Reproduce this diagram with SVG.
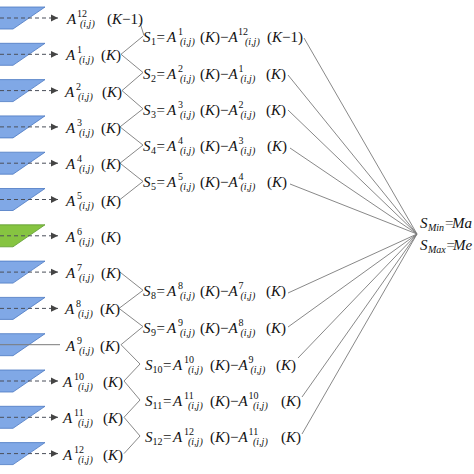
<svg xmlns="http://www.w3.org/2000/svg" xmlns:xlink="http://www.w3.org/1999/xlink" width="474" height="474" viewBox="0 0 474 474" font-family="Liberation Serif, serif" font-size="15">
<style>
text{fill:#111}
.i{font-style:italic}
.s{font-size:10px}
.b{fill:#80a8e6;stroke:#4b79c2;stroke-width:0.8}
.g{fill:#86c441;stroke:#5c9a2c;stroke-width:0.8}
.d{stroke:#4a4f5a;stroke-width:1;stroke-dasharray:4 3;fill:none}
.c{stroke:#7a7a7a;stroke-width:0.9;fill:none}
</style>
<defs>
<polygon id="pg" points="-10,-11 45,-11 13,11 -10,11"/>
<marker id="ah" markerWidth="8" markerHeight="8" refX="7" refY="4" orient="auto" markerUnits="userSpaceOnUse"><path d="M0,0.6 L7,4 L0,7.4 z" fill="#444"/></marker>
</defs>
<g id="sources">
<g id="src0"><use xlink:href="#pg" class="b" transform="translate(0,18)"/><line class="d" x1="0" y1="18" x2="58" y2="18" marker-end="url(#ah)"/></g>
<g id="src1"><use xlink:href="#pg" class="b" transform="translate(0,54.3)"/><line class="d" x1="0" y1="54.3" x2="58" y2="54.3" marker-end="url(#ah)"/></g>
<g id="src2"><use xlink:href="#pg" class="b" transform="translate(0,90.6)"/><line class="d" x1="0" y1="90.6" x2="58" y2="90.6" marker-end="url(#ah)"/></g>
<g id="src3"><use xlink:href="#pg" class="b" transform="translate(0,126.9)"/><line class="d" x1="0" y1="126.9" x2="58" y2="126.9" marker-end="url(#ah)"/></g>
<g id="src4"><use xlink:href="#pg" class="b" transform="translate(0,163.2)"/><line class="d" x1="0" y1="163.2" x2="58" y2="163.2" marker-end="url(#ah)"/></g>
<g id="src5"><use xlink:href="#pg" class="b" transform="translate(0,199.5)"/><line class="d" x1="0" y1="199.5" x2="58" y2="199.5" marker-end="url(#ah)"/></g>
<g id="src6"><use xlink:href="#pg" class="g" transform="translate(0,235.8)"/><line class="d" x1="0" y1="235.8" x2="58" y2="235.8" marker-end="url(#ah)"/></g>
<g id="src7"><use xlink:href="#pg" class="b" transform="translate(0,272.1)"/><line class="d" x1="0" y1="272.1" x2="58" y2="272.1" marker-end="url(#ah)"/></g>
<g id="src8"><use xlink:href="#pg" class="b" transform="translate(0,308.4)"/><line class="d" x1="0" y1="308.4" x2="58" y2="308.4" marker-end="url(#ah)"/></g>
<g id="src9"><use xlink:href="#pg" class="b" transform="translate(0,344.7)"/><line x1="0" y1="344.7" x2="60" y2="344.7" stroke="#7a7a7a" stroke-width="1"/></g>
<g id="src10"><use xlink:href="#pg" class="b" transform="translate(0,381)"/><line class="d" x1="0" y1="381" x2="58" y2="381" marker-end="url(#ah)"/></g>
<g id="src11"><use xlink:href="#pg" class="b" transform="translate(0,417.3)"/><line class="d" x1="0" y1="417.3" x2="58" y2="417.3" marker-end="url(#ah)"/></g>
<g id="src12"><use xlink:href="#pg" class="b" transform="translate(0,453.6)"/><line class="d" x1="0" y1="453.6" x2="58" y2="453.6" marker-end="url(#ah)"/></g>
</g>
<g id="connectors">
<path class="c" d="M140,23 L144,35.5"/>
<path class="c" d="M143,36.2 L121,54.3 L143,72.5 L122,90.6 L143,108.8 L120,126.9 L143,145.1 L120,163.2 L143,181.4 L120,199.5"/>
<path class="c" d="M120,272.1 L143,290.3 L119,308.4 L143,326.6 L121,344.7 L140,364 L124,381 L140,400 L124,417.3 L140,436 L124,453.6"/>
<path class="c" d="M304,38 L417,234 M288,75 L417,234 M288,110 L417,234 M290,148 L417,234 M290,184 L417,234 M288,293 L417,234 M288,327 L417,234 M298,358 L417,234 M302,397 L417,234 M302,434 L417,234"/>
</g>
<g id="a12prev"><text y="24"><tspan class="i" x="67">A</tspan><tspan class="s" x="77" y="17">12</tspan><tspan class="s i" x="80" y="27">(i,j)</tspan><tspan x="107" y="24">(</tspan><tspan class="i">K</tspan>−1)</text></g>
<g id="a1"><text y="60.3"><tspan class="i" x="66">A</tspan><tspan class="s" x="77" y="53.3">1</tspan><tspan class="s i" x="79" y="63.3">(i,j)</tspan><tspan x="101" y="60.3">(</tspan><tspan class="i">K</tspan>)</text></g>
<g id="a2"><text y="96.6"><tspan class="i" x="65">A</tspan><tspan class="s" x="76" y="89.6">2</tspan><tspan class="s i" x="78" y="99.6">(i,j)</tspan><tspan x="102" y="96.6">(</tspan><tspan class="i">K</tspan>)</text></g>
<g id="a3"><text y="132.9"><tspan class="i" x="66">A</tspan><tspan class="s" x="77" y="125.9">3</tspan><tspan class="s i" x="79" y="135.9">(i,j)</tspan><tspan x="101" y="132.9">(</tspan><tspan class="i">K</tspan>)</text></g>
<g id="a4"><text y="169.2"><tspan class="i" x="66">A</tspan><tspan class="s" x="77" y="162.2">4</tspan><tspan class="s i" x="79" y="172.2">(i,j)</tspan><tspan x="101" y="169.2">(</tspan><tspan class="i">K</tspan>)</text></g>
<g id="a5"><text y="205.5"><tspan class="i" x="66">A</tspan><tspan class="s" x="77" y="198.5">5</tspan><tspan class="s i" x="79" y="208.5">(i,j)</tspan><tspan x="101" y="205.5">(</tspan><tspan class="i">K</tspan>)</text></g>
<g id="a6"><text y="241.8"><tspan class="i" x="66">A</tspan><tspan class="s" x="77" y="234.8">6</tspan><tspan class="s i" x="79" y="244.8">(i,j)</tspan><tspan x="101" y="241.8">(</tspan><tspan class="i">K</tspan>)</text></g>
<g id="a7"><text y="278.1"><tspan class="i" x="66">A</tspan><tspan class="s" x="77" y="271.1">7</tspan><tspan class="s i" x="79" y="281.1">(i,j)</tspan><tspan x="101" y="278.1">(</tspan><tspan class="i">K</tspan>)</text></g>
<g id="a8"><text y="314.4"><tspan class="i" x="65">A</tspan><tspan class="s" x="76" y="307.4">8</tspan><tspan class="s i" x="78" y="317.4">(i,j)</tspan><tspan x="100" y="314.4">(</tspan><tspan class="i">K</tspan>)</text></g>
<g id="a9"><text y="350.7"><tspan class="i" x="66">A</tspan><tspan class="s" x="77" y="343.7">9</tspan><tspan class="s i" x="79" y="353.7">(i,j)</tspan><tspan x="100" y="350.7">(</tspan><tspan class="i">K</tspan>)</text></g>
<g id="a10"><text y="387"><tspan class="i" x="63">A</tspan><tspan class="s" x="74" y="380">10</tspan><tspan class="s i" x="78" y="390">(i,j)</tspan><tspan x="103" y="387">(</tspan><tspan class="i">K</tspan>)</text></g>
<g id="a11"><text y="423.3"><tspan class="i" x="63">A</tspan><tspan class="s" x="74" y="416.3">11</tspan><tspan class="s i" x="78" y="426.3">(i,j)</tspan><tspan x="103" y="423.3">(</tspan><tspan class="i">K</tspan>)</text></g>
<g id="a12"><text y="459.6"><tspan class="i" x="63">A</tspan><tspan class="s" x="74" y="452.6">12</tspan><tspan class="s i" x="78" y="462.6">(i,j)</tspan><tspan x="103" y="459.6">(</tspan><tspan class="i">K</tspan>)</text></g>
<g id="s1"><text y="42.2"><tspan class="i" x="143">S</tspan><tspan class="s" x="151" y="45.2">1</tspan><tspan x="156.5" y="42.2">=</tspan><tspan class="i" x="167">A</tspan><tspan class="s" x="178" y="35.2">1</tspan><tspan class="s i" x="180" y="45.2">(i,j)</tspan><tspan x="200" y="42.2">(</tspan><tspan class="i">K</tspan>)−<tspan class="i">A</tspan><tspan class="s" x="238" y="35.2">12</tspan><tspan class="s i" x="245" y="45.2">(i,j)</tspan><tspan x="267" y="42.2">(</tspan><tspan class="i">K</tspan>−1)</text></g>
<g id="s2"><text y="78.5"><tspan class="i" x="143">S</tspan><tspan class="s" x="151" y="81.5">2</tspan><tspan x="156.5" y="78.5">=</tspan><tspan class="i" x="167">A</tspan><tspan class="s" x="178" y="71.5">2</tspan><tspan class="s i" x="180" y="81.5">(i,j)</tspan><tspan x="200" y="78.5">(</tspan><tspan class="i">K</tspan>)−<tspan class="i">A</tspan><tspan class="s" x="238.5" y="71.5">1</tspan><tspan class="s i" x="240.5" y="81.5">(i,j)</tspan><tspan x="266" y="78.5">(</tspan><tspan class="i">K</tspan>)</text></g>
<g id="s3"><text y="114.8"><tspan class="i" x="143">S</tspan><tspan class="s" x="151" y="117.8">3</tspan><tspan x="156.5" y="114.8">=</tspan><tspan class="i" x="167">A</tspan><tspan class="s" x="178" y="107.8">3</tspan><tspan class="s i" x="180" y="117.8">(i,j)</tspan><tspan x="200" y="114.8">(</tspan><tspan class="i">K</tspan>)−<tspan class="i">A</tspan><tspan class="s" x="238.5" y="107.8">2</tspan><tspan class="s i" x="240.5" y="117.8">(i,j)</tspan><tspan x="266" y="114.8">(</tspan><tspan class="i">K</tspan>)</text></g>
<g id="s4"><text y="151.1"><tspan class="i" x="143">S</tspan><tspan class="s" x="151" y="154.1">4</tspan><tspan x="156.5" y="151.1">=</tspan><tspan class="i" x="167">A</tspan><tspan class="s" x="178" y="144.1">4</tspan><tspan class="s i" x="180" y="154.1">(i,j)</tspan><tspan x="200" y="151.1">(</tspan><tspan class="i">K</tspan>)−<tspan class="i">A</tspan><tspan class="s" x="238.5" y="144.1">3</tspan><tspan class="s i" x="240.5" y="154.1">(i,j)</tspan><tspan x="267" y="151.1">(</tspan><tspan class="i">K</tspan>)</text></g>
<g id="s5"><text y="187.4"><tspan class="i" x="143">S</tspan><tspan class="s" x="151" y="190.4">5</tspan><tspan x="156.5" y="187.4">=</tspan><tspan class="i" x="167">A</tspan><tspan class="s" x="178" y="180.4">5</tspan><tspan class="s i" x="180" y="190.4">(i,j)</tspan><tspan x="200" y="187.4">(</tspan><tspan class="i">K</tspan>)−<tspan class="i">A</tspan><tspan class="s" x="238.5" y="180.4">4</tspan><tspan class="s i" x="240.5" y="190.4">(i,j)</tspan><tspan x="267" y="187.4">(</tspan><tspan class="i">K</tspan>)</text></g>
<g id="s8"><text y="296.3"><tspan class="i" x="143">S</tspan><tspan class="s" x="151" y="299.3">8</tspan><tspan x="156.5" y="296.3">=</tspan><tspan class="i" x="167">A</tspan><tspan class="s" x="178" y="289.3">8</tspan><tspan class="s i" x="180" y="299.3">(i,j)</tspan><tspan x="200" y="296.3">(</tspan><tspan class="i">K</tspan>)−<tspan class="i">A</tspan><tspan class="s" x="238.5" y="289.3">7</tspan><tspan class="s i" x="240.5" y="299.3">(i,j)</tspan><tspan x="266" y="296.3">(</tspan><tspan class="i">K</tspan>)</text></g>
<g id="s9"><text y="332.6"><tspan class="i" x="143">S</tspan><tspan class="s" x="151" y="335.6">9</tspan><tspan x="156.5" y="332.6">=</tspan><tspan class="i" x="167">A</tspan><tspan class="s" x="178" y="325.6">9</tspan><tspan class="s i" x="180" y="335.6">(i,j)</tspan><tspan x="200" y="332.6">(</tspan><tspan class="i">K</tspan>)−<tspan class="i">A</tspan><tspan class="s" x="238.5" y="325.6">8</tspan><tspan class="s i" x="240.5" y="335.6">(i,j)</tspan><tspan x="266" y="332.6">(</tspan><tspan class="i">K</tspan>)</text></g>
<g id="s10"><text y="370"><tspan class="i" x="145">S</tspan><tspan class="s" x="152.5" y="373">10</tspan><tspan x="163" y="370">=</tspan><tspan class="i" x="173">A</tspan><tspan class="s" x="184" y="363">10</tspan><tspan class="s i" x="188" y="373">(i,j)</tspan><tspan x="210" y="370">(</tspan><tspan class="i">K</tspan>)−<tspan class="i">A</tspan><tspan class="s" x="248.5" y="363">9</tspan><tspan class="s i" x="250.5" y="373">(i,j)</tspan><tspan x="276" y="370">(</tspan><tspan class="i">K</tspan>)</text></g>
<g id="s11"><text y="406"><tspan class="i" x="145">S</tspan><tspan class="s" x="152.5" y="409">11</tspan><tspan x="163" y="406">=</tspan><tspan class="i" x="173">A</tspan><tspan class="s" x="184" y="399">11</tspan><tspan class="s i" x="188" y="409">(i,j)</tspan><tspan x="210" y="406">(</tspan><tspan class="i">K</tspan>)−<tspan class="i">A</tspan><tspan class="s" x="248.5" y="399">10</tspan><tspan class="s i" x="253" y="409">(i,j)</tspan><tspan x="281" y="406">(</tspan><tspan class="i">K</tspan>)</text></g>
<g id="s12"><text y="442"><tspan class="i" x="145">S</tspan><tspan class="s" x="152.5" y="445">12</tspan><tspan x="163" y="442">=</tspan><tspan class="i" x="173">A</tspan><tspan class="s" x="184" y="435">12</tspan><tspan class="s i" x="188" y="445">(i,j)</tspan><tspan x="210" y="442">(</tspan><tspan class="i">K</tspan>)−<tspan class="i">A</tspan><tspan class="s" x="248.5" y="435">11</tspan><tspan class="s i" x="253" y="445">(i,j)</tspan><tspan x="281" y="442">(</tspan><tspan class="i">K</tspan>)</text></g>
<g id="output">
<text y="228"><tspan class="i" x="420">S</tspan><tspan class="s i" x="428" y="231">Min</tspan><tspan x="445" y="228" fill="#555">=</tspan><tspan class="i" x="452">Ma</tspan></text>
<text y="250"><tspan class="i" x="420">S</tspan><tspan class="s i" x="428" y="253">Max</tspan><tspan x="446.5" y="250" fill="#555">=</tspan><tspan class="i" x="453">Me</tspan></text>
</g>
</svg>
